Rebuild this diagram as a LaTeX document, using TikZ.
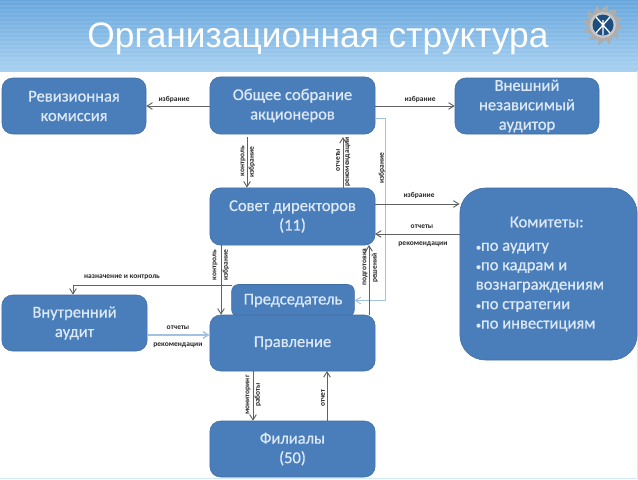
\documentclass[tikz,border=0pt]{standalone}
\usepackage{fontspec}
\setmainfont{Carlito}
\newfontfamily\titlefont{Liberation Sans}
\newfontfamily\unitfont[FakeBold=0.7]{Carlito}
\usepackage{xcolor}
\usetikzlibrary{positioning,arrows.meta,calc}
\definecolor{boxblue}{HTML}{4A7EBB}
\definecolor{boxedge}{HTML}{3F6C9F}
\definecolor{boxtext}{HTML}{DCE8F4}
\definecolor{paleline}{HTML}{A3C1E3}
\definecolor{bandtop}{HTML}{66A6DD}
\definecolor{bandlow}{HTML}{A8D1F1}
\definecolor{logoblue}{HTML}{1C4E80}
\definecolor{edgepale}{HTML}{D5E8F7}

\begin{document}
\begin{tikzpicture}[
  x=0.75pt, y=-0.75pt,
  unit/.style={rectangle, draw=boxedge, fill=boxblue, rounded corners=8pt, inner sep=0pt,
               text=boxtext, align=center, font=\unitfont\fontsize{12.4}{14.6}\selectfont},
  arrow/.style={->, >={Straight Barb[length=4pt,width=5pt]}, line width=0.7pt, black!62},
  palearrow/.style={arrow, paleline},
  tag/.style={inner sep=0pt, text=black!85, font=\fontsize{5.6}{6}\selectfont\bfseries},
  vtag/.style={tag, rotate=90}
]
\useasboundingbox (0,0) rectangle (638,479);

% title band
\fill[top color=bandtop, bottom color=bandlow] (0,0) rectangle (638,71);
\foreach \y in {2,6,...,66} {
  \draw[white, opacity=0.08, line width=0.8pt] (0,\y) -- (638,\y);
}
\fill[edgepale] (636.5,71) rectangle (638,479);
\fill[edgepale] (0,477.5) rectangle (638,479);
\node[text=white, inner sep=0pt, font=\titlefont\fontsize{26.5}{30}\selectfont] (title) at (318,39) {Организационная структура};

% logo
\foreach \a in {0,30,...,330} {
  \fill[black!32, rotate around={\a:(603,25)}] (597,15) .. controls (600,10) and (604,7) .. (608,5) .. controls (607,9) and (608,12) .. (610,16) -- cycle;
}
\fill[black!22] (603,25) circle (13);
\fill[logoblue] (603,25) circle (10.5);
\draw[white, line width=1pt] (596,17) -- (610,33) (610,17) -- (596,33) (603,20) -- (603,35);

% boxes
\node[unit, minimum width=108pt, minimum height=42pt] (rev) at (74,106) {\vspace*{1.5pt}Ревизионная\\комиссия};
\node[unit, minimum width=124pt, minimum height=43pt] (osa) at (292.5,105.5) {\vspace*{1.5pt}Общее собрание\\акционеров};
\node[unit, minimum width=108pt, minimum height=42pt] (ext) at (527,106) {\vspace*{1.5pt}Внешний\\независимый\\аудитор};
\node[unit, minimum width=124pt, minimum height=43pt] (sd) at (292.5,216.5) {\vspace*{1.5pt}Совет директоров\\(11)};
\node[unit, minimum width=133pt, minimum height=129pt, rounded corners=19pt, text width=109pt, align=flush left] (kom) at (548.5,274) {\vspace*{3pt}\hspace*{25.5pt}Комитеты:\\{\fontsize{8}{8}\selectfont•}по аудиту\\{\fontsize{8}{8}\selectfont•}по кадрам и\\вознаграждениям\\{\fontsize{8}{8}\selectfont•}по стратегии\\{\fontsize{8}{8}\selectfont•}по инвестициям};
\node[unit, minimum width=92pt, minimum height=24pt, rounded corners=5pt] (pred) at (293,300.5) {Председатель};
\node[unit, minimum width=109pt, minimum height=42pt] (ia) at (74.5,323) {\vspace*{1.5pt}Внутренний\\аудит};
\node[unit, minimum width=124pt, minimum height=42pt] (prav) at (292.5,343) {\vspace*{1.5pt}Правление};
\node[unit, minimum width=124pt, minimum height=42pt] (fil) at (292.5,449) {\vspace*{1.5pt}Филиалы\\(50)};

% connectors
\draw[arrow] (osa.west |- rev.east) -- (rev.east);
\draw[arrow] (osa.east |- ext.west) -- (ext.west);
\coordinate (osaA) at (247,137);
\coordinate (osaB) at (343,137);
\draw[arrow] (osaA) -- (osaA |- sd.north);
\draw[arrow] (osaB |- sd.north) -- (osaB);
\coordinate (osaOut) at (375,118);
\coordinate (osaTurn) at (385,118);
\draw[palearrow] (osaOut) -- (osaTurn) -- (osaTurn |- pred.east) -- (pred.east);
\coordinate (sdOut) at (375,204);
\coordinate (sdIn) at (375,234);
\draw[arrow] (sdOut) -- (sdOut -| kom.west);
\draw[arrow] (sdIn -| kom.west) -- (sdIn);
\coordinate (sdA) at (221,245);
\coordinate (sdB) at (369,245);
\draw[arrow] (sdA) -- (sdA |- prav.north);
\draw[arrow] (sdB |- prav.north) -- (sdB);
\coordinate (nazn) at (232,285);
\coordinate (naznTurn) at (73,285);
\draw[arrow] (nazn) -- (naznTurn) -- (naznTurn |- ia.north);
\coordinate (iaOut) at (147,335);
\draw[palearrow, line width=1pt] (iaOut) -- (iaOut -| prav.west);
\coordinate (pravA) at (253,371);
\coordinate (pravB) at (327,371);
\draw[arrow] (pravA) -- (pravA |- fil.north);
\draw[arrow] (pravB |- fil.north) -- (pravB);

% labels
\node[tag] (t1) at (174,100) {избрание};
\node[tag] (t2) at (420,100) {избрание};
\node[vtag] (t3) at (243,161) {контроль};
\node[vtag] (t4) at (252,162) {избрание};
\node[vtag] (t5) at (338,160) {отчеты};
\node[vtag] (t6) at (348,162) {рекомендации};
\node[vtag] (t7) at (382,168) {избрание};
\node[tag] (t8) at (419,196) {избрание};
\node[tag] (t9) at (422,227) {отчеты};
\node[tag] (t10) at (423,244) {рекомендации};
\node[vtag] (t11) at (215,265) {контроль};
\node[vtag] (t12) at (226,265) {избрание};
\node[vtag] (t13) at (365,267) {подготовка};
\node[vtag] (t14) at (375,268) {решений};
\node[tag] (t15) at (122,277) {назначение и контроль};
\node[tag] (t16) at (178,328) {отчеты};
\node[tag] (t17) at (178,345) {рекомендации};
\node[vtag] (t18) at (248,395) {мониторинг};
\node[vtag] (t19) at (258,395) {работы};
\node[vtag] (t20) at (323,398) {отчет};

\end{tikzpicture}
\end{document}
